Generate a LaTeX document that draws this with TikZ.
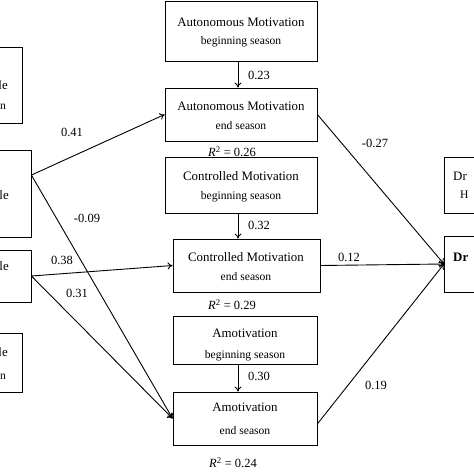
\documentclass[tikz,border=0pt]{standalone}
\usepackage{fontspec}
\setmainfont{Liberation Serif}
\usetikzlibrary{arrows.meta,calc}
\begin{document}
\begin{tikzpicture}[x=1pt,y=-1pt,
  box/.style={draw,line width=0.8pt,inner sep=0pt},
  ttl/.style={inner sep=0pt,font=\fontsize{12.9}{15}\selectfont},
  sub/.style={inner sep=0pt,font=\fontsize{11.6}{14}\selectfont},
  val/.style={inner sep=0pt,font=\fontsize{12.5}{15}\selectfont},
  arr/.style={line width=0.9pt,-{To[length=5pt,width=7pt]}}]
\useasboundingbox (0,0) rectangle (474,474);
\fill[white] (0,0) rectangle (474,474);
\clip (0,0) rectangle (474,474);
% centre boxes
\node[box,minimum width=152pt,minimum height=60pt] (amb) at (241,31) {};
\node[box,minimum width=152pt,minimum height=53pt] (ame) at (241,114.5) {};
\node[box,minimum width=152pt,minimum height=56pt] (cmb) at (241,185) {};
\node[box,minimum width=147pt,minimum height=53pt] (cme) at (246.5,265.5) {};
\node[box,minimum width=144pt,minimum height=48pt] (aob) at (245,340) {};
\node[box,minimum width=144pt,minimum height=53pt] (aoe) at (245,418.5) {};
% left boxes (cut off)
\node[box,minimum width=40pt,minimum height=76pt] (l1) at (2,85) {};
\node[box,minimum width=49pt,minimum height=87pt] (l2) at (6.5,193.5) {};
\node[box,minimum width=49pt,minimum height=52pt] (l3) at (6.5,276) {};
\node[box,minimum width=40pt,minimum height=59pt] (l4) at (2,362.5) {};
% right boxes (cut off)
\node[box,minimum width=50pt,minimum height=56pt,anchor=west] (r1) at (444,185) {};
\node[box,minimum width=50pt,minimum height=56pt,anchor=west] (r2) at (444,264) {};
% texts
\node[ttl] (t1) at (241,22) {Autonomous Motivation};
\node[sub] (s1) at (241,42) {beginning season};
\node[ttl] (t2) at (241,106) {Autonomous Motivation};
\node[sub] (s2) at (241,126) {end season};
\node[ttl] (t3) at (241,176) {Controlled Motivation};
\node[sub] (s3) at (241,197) {beginning season};
\node[ttl] (t4) at (246,257) {Controlled Motivation};
\node[sub] (s4) at (246,277) {end season};
\node[ttl] (t5) at (245,333) {Amotivation};
\node[sub] (s5) at (245,356) {beginning season};
\node[ttl] (t6) at (245,407) {Amotivation};
\node[sub] (s6) at (245,431) {end season};
\node[ttl,anchor=east] (lt1) at (8,85) {le};
\node[sub,anchor=east] (ls1) at (6,107) {n};
\node[ttl,anchor=east] (lt2) at (9,195) {le};
\node[ttl,anchor=east] (lt3) at (9,266) {le};
\node[ttl,anchor=east] (lt4) at (8,352) {le};
\node[sub,anchor=east] (ls4) at (6,377) {n};
\node[ttl,anchor=west] (rt1) at (453,176) {Dr};
\node[sub,anchor=west] (rs1) at (460,195) {H};
\node[ttl,anchor=west] (rt2) at (453,257) {\bfseries Dr};
% R squared
\node[val] (r2a) at (232,152) {\textit{R}\textsuperscript{2} = 0.26};
\node[val] (r2b) at (232,305) {\textit{R}\textsuperscript{2} = 0.29};
\node[val] (r2c) at (233,463) {\textit{R}\textsuperscript{2} = 0.24};
% vertical arrows
\coordinate (vx) at (238,0);
\draw[arr] (amb.south -| vx) -- (ame.north -| vx);
\draw[arr] (cmb.south -| vx) -- (cme.north -| vx);
\draw[arr] (aob.south -| vx) -- (aoe.north -| vx);
\node[val] (v1) at (259,75) {0.23};
\node[val] (v2) at (259,225) {0.32};
\node[val] (v3) at (259,376) {0.30};
% left paths
\coordinate (o2) at ($(l2.north east)!0.29!(l2.south east)$);
\draw[arr] (o2) -- (ame.west);
\draw[arr] (o2) -- (aoe.west);
\draw[arr] (l3.east) -- (cme.west);
\draw[arr] (l3.east) -- (aoe.west);
\node[val] (p1) at (72,132) {0.41};
\node[val] (p2) at (87,218) {-0.09};
\node[val] (p3) at (62,260) {0.38};
\node[val] (p4) at (77,293) {0.31};
% right paths
\coordinate (oa) at ($(aoe.north east)!0.6!(aoe.south east)$);
\draw[arr] (ame.east) -- (r2.west);
\draw[arr] (cme.east) -- (r2.west);
\draw[arr] (oa) -- (r2.west);
\node[val] (q1) at (375,143) {-0.27};
\node[val] (q2) at (349,257) {0.12};
\node[val] (q3) at (376,385) {0.19};
\end{tikzpicture}
\end{document}
